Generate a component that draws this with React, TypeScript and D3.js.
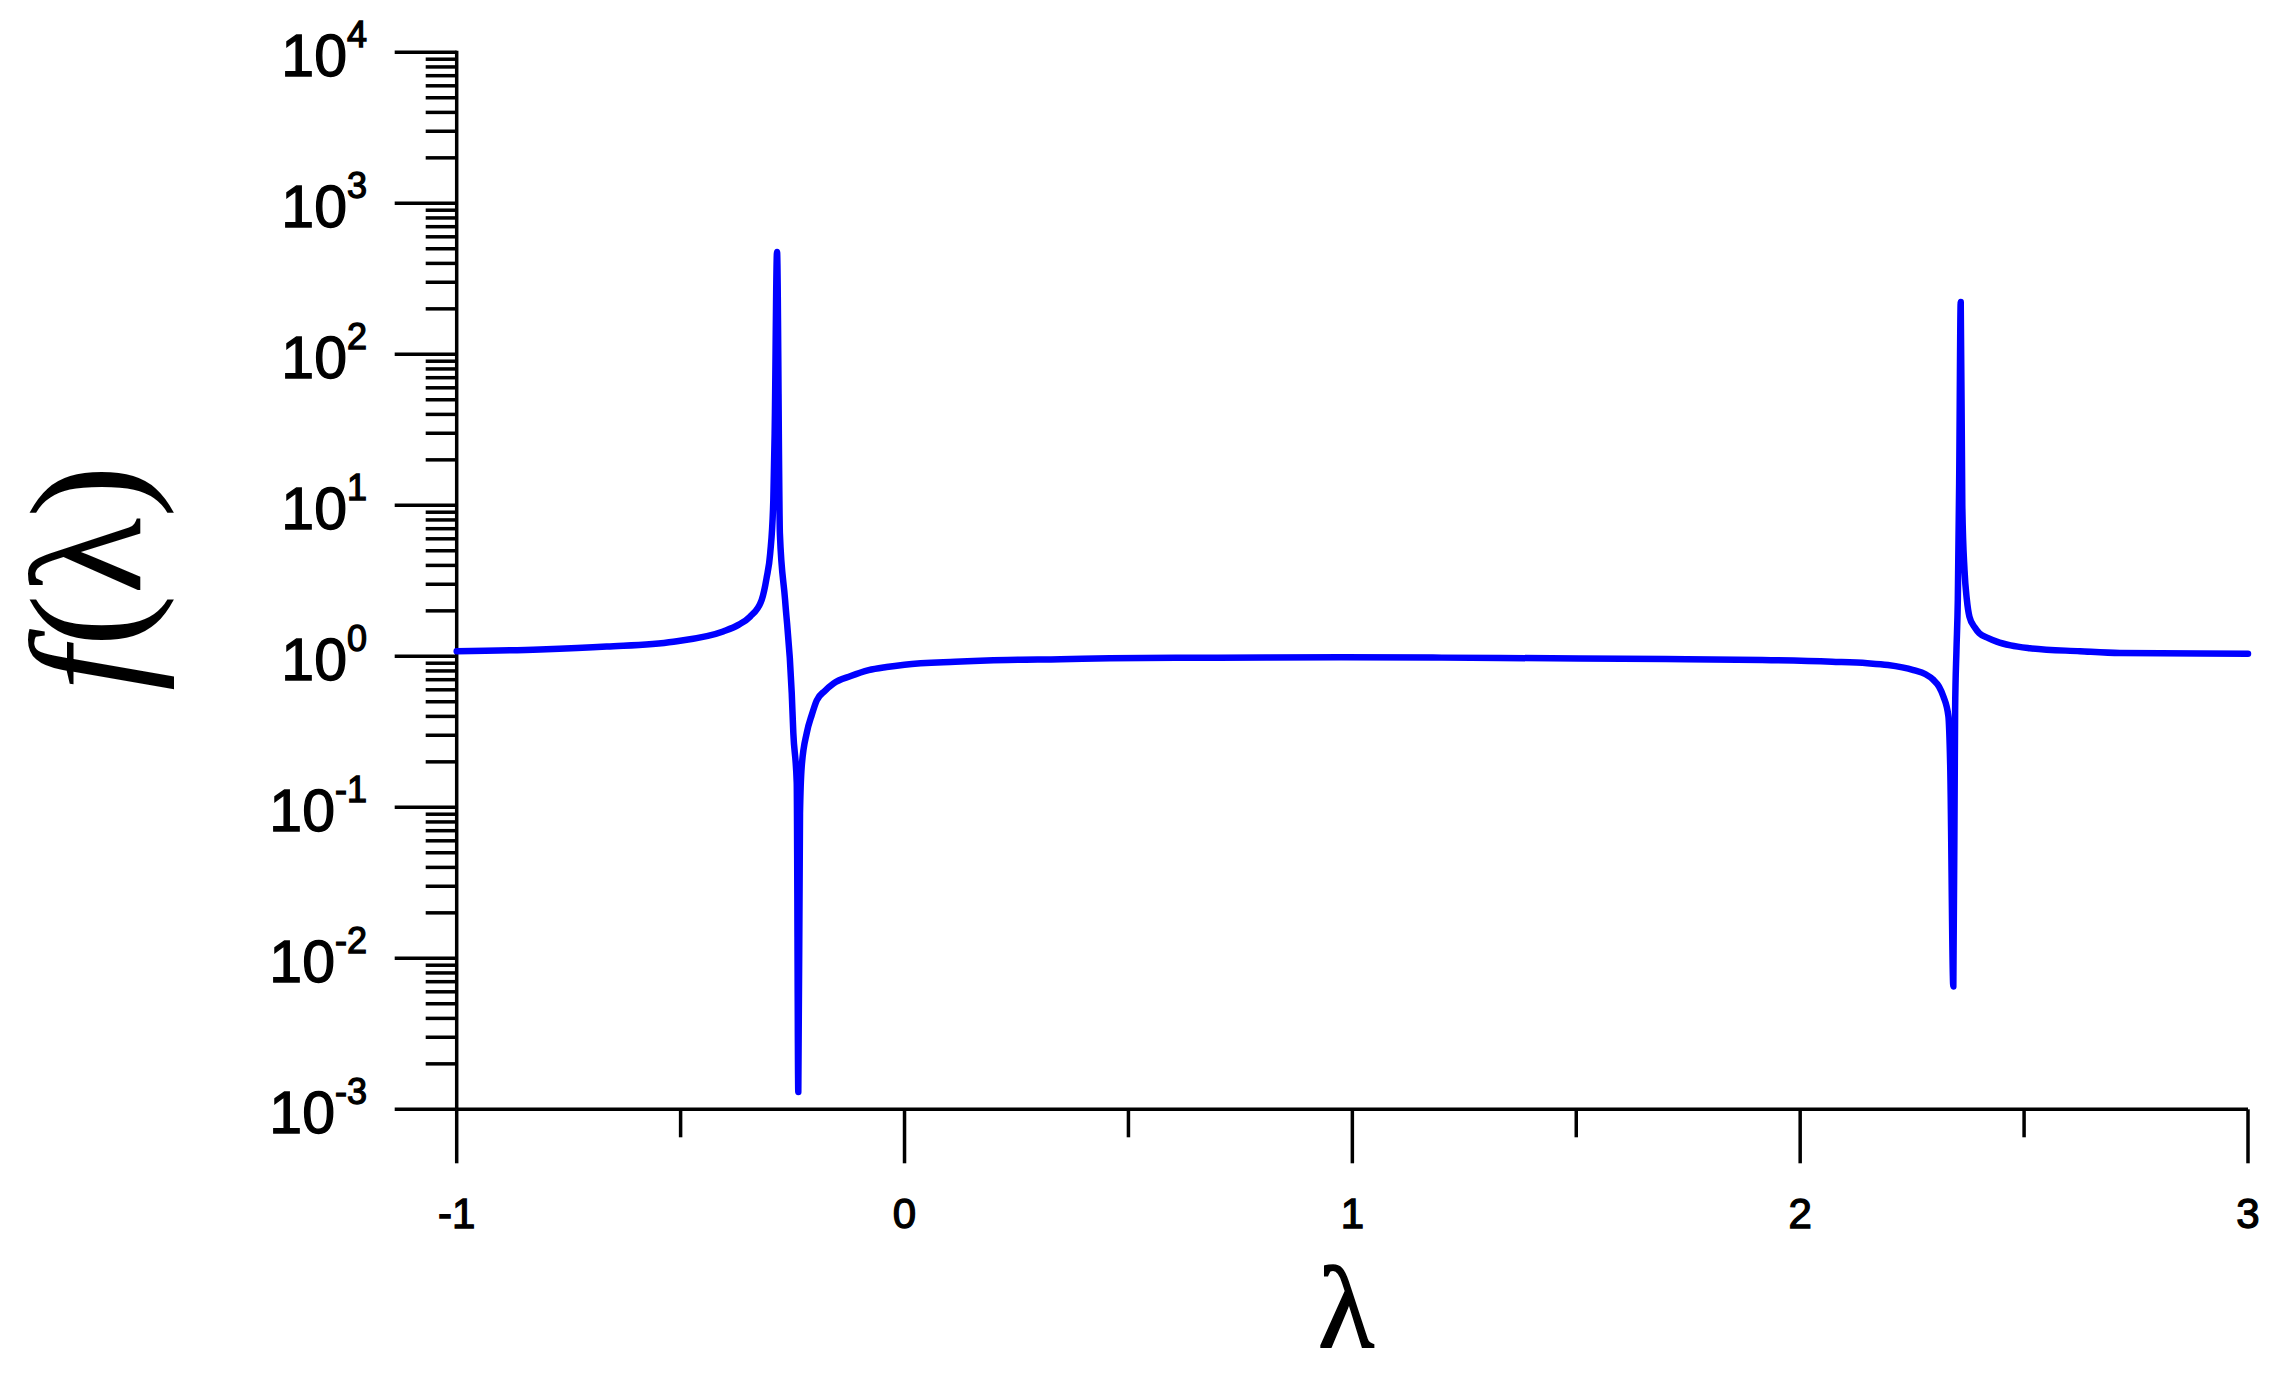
import React from "react";
import * as d3 from "d3";

// lambda values (x) and f(lambda) values
const lambda = [
  -1, -0.814, -0.665, -0.516, -0.405, -0.37, -0.345, -0.319, -0.308, -0.3, -0.293, -0.29, -0.2847,
  -0.2783, -0.2667, -0.2519, -0.2483, -0.2407, -0.2372,
  -0.2334, -0.2296, -0.2184, -0.207, -0.1961, -0.178, -0.159, -0.12, -0.08, -0.04, 0,
  0.113, 0.23, 0.348, 0.458, 0.7, 0.975, 1.2, 1.445, 1.7,
  1.915, 2.071, 2.15, 2.196, 2.253, 2.28, 2.297, 2.31, 2.32, 2.331, 2.335, 2.342,
  2.346, 2.349, 2.352, 2.355, 2.3585,
  2.362, 2.367, 2.372, 2.378, 2.39, 2.4, 2.42, 2.439, 2.47, 2.513, 2.625, 2.714, 3,
];
const fValues = [
  1.08, 1.11, 1.16, 1.25, 1.46, 1.62, 1.83, 2.36, 3.3, 4.8, 10.8, 30, 476,
  6.5, 2.36, 0.575, 0.31, 0.145, 0.0013,
  0.091, 0.186, 0.31, 0.41, 0.51, 0.59, 0.66, 0.74, 0.81, 0.85, 0.88,
  0.92, 0.945, 0.955, 0.97, 0.98, 0.985, 0.98, 0.97, 0.96,
  0.945, 0.92, 0.9, 0.875, 0.81, 0.76, 0.7, 0.63, 0.54, 0.4, 0.19, 0.0065,
  0.44, 1.1, 2.36, 14, 222,
  10, 3.7, 2.4, 1.83, 1.55, 1.42, 1.32, 1.25, 1.18, 1.13, 1.08, 1.05, 1.04,
];

const xMajorTicks = [-1, 0, 1, 2, 3];
const xMinorTicks = [-0.5, 0.5, 1.5, 2.5];
const yExponents = [-3, -2, -1, 0, 1, 2, 3, 4];

function App() {
  const width = 2281;
  const height = 1375;

  const x = d3.scaleLinear().domain([-1, 3]).range([456.7, 2248]);
  const y = d3.scaleLog().domain([1e-3, 1e4]).range([1109.3, 52.3]);

  const line = d3
    .line<number>()
    .x((d, i) => x(lambda[i]))
    .y((d) => y(d))
    .curve(d3.curveMonotoneX);

  // minor log ticks 2..9 in every decade
  const yMinor: number[] = [];
  yExponents.slice(0, -1).forEach((e) => {
    for (let m = 2; m <= 9; m++) yMinor.push(m * Math.pow(10, e));
  });

  const x0 = x(-1);
  const yb = y(1e-3);
  const sans = "'Liberation Sans', Arial, sans-serif";
  const serif = "'Liberation Serif', 'Times New Roman', serif";

  return (
    <svg
      width={width}
      height={height}
      style={{ position: "absolute", left: 0, top: 0, background: "#fff" }}
    >
      {/* y axis */}
      <g stroke="#000" strokeWidth={3.5}>
        <line x1={x0} x2={x0} y1={y(1e4) - 1.5} y2={yb} />
        {yExponents.map((e) => (
          <line key={"ym" + e} x1={x0 - 62} x2={x0} y1={y(Math.pow(10, e))} y2={y(Math.pow(10, e))} />
        ))}
        {yMinor.map((v, i) => (
          <line key={"yn" + i} x1={x0 - 31} x2={x0} y1={y(v)} y2={y(v)} />
        ))}
      </g>
      {/* x axis */}
      <g stroke="#000" strokeWidth={3.5}>
        <line x1={x0} x2={x(3)} y1={yb} y2={yb} />
        {xMajorTicks.map((t) => (
          <line key={"xm" + t} x1={x(t)} x2={x(t)} y1={yb} y2={yb + 54} />
        ))}
        {xMinorTicks.map((t) => (
          <line key={"xn" + t} x1={x(t)} x2={x(t)} y1={yb} y2={yb + 28} />
        ))}
      </g>

      {/* tick labels */}
      <g fontFamily={sans} fill="#000" stroke="#000" strokeWidth={1.3}>
        {yExponents.map((e) => (
          <text key={"yl" + e} x={367} y={y(Math.pow(10, e)) + 24} textAnchor="end" fontSize={59}>
            10
            <tspan dy={-29} fontSize={36}>
              {String(e)}
            </tspan>
          </text>
        ))}
        {xMajorTicks.map((t) => (
          <text key={"xl" + t} x={x(t)} y={1228} textAnchor="middle" fontSize={42}>
            {String(t)}
          </text>
        ))}
      </g>

      {/* axis titles */}
      <text
        x={1346}
        y={1347}
        textAnchor="middle"
        fontFamily={serif}
        fontSize={116}
        fill="#000"
        stroke="#000"
        strokeWidth={1.5}
      >
        λ
      </text>
      <text
        transform="translate(140,578) rotate(-90)"
        textAnchor="middle"
        fontFamily={serif}
        fontSize={158}
        fill="#000"
      >
        <tspan fontStyle="italic">f</tspan>(λ)
      </text>

      {/* curve */}
      <path
        d={line(fValues) || ""}
        fill="none"
        stroke="#0000ff"
        strokeWidth={6.5}
        strokeLinejoin="round"
        strokeLinecap="round"
      />
    </svg>
  );
}

export default App;
